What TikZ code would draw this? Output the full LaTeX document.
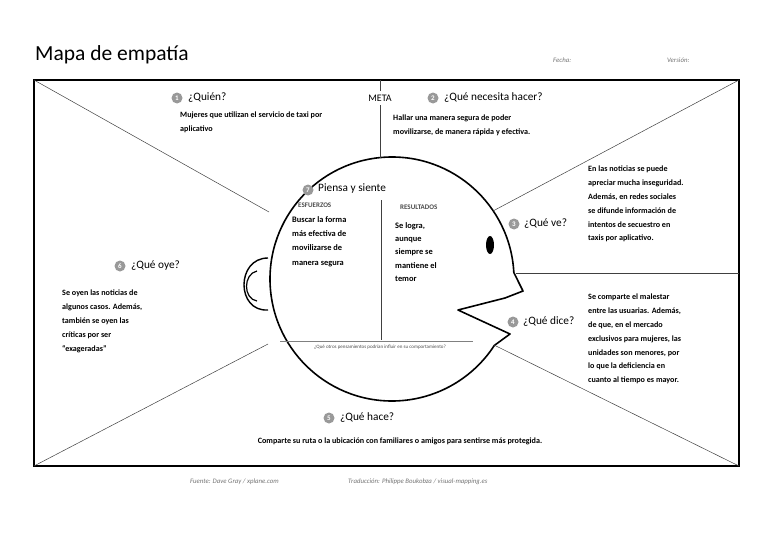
\documentclass[tikz,border=0pt]{standalone}
\usepackage{fontspec}
\setmainfont{Carlito}
\begin{document}
\begin{tikzpicture}[x=1pt,y=-1pt,
  ln/.style={line width=0.5pt, black!75},
  head/.style={font=\fontsize{11.3}{13}\selectfont, anchor=west, inner sep=0},
  body/.style={font=\fontsize{8.1}{13.8}\selectfont\bfseries, anchor=north west, align=left, inner sep=0},
  num/.style={circle, fill=black!40, text=white, font=\fontsize{7}{7}\selectfont\bfseries, inner sep=0, minimum size=11pt},
  foot/.style={font=\fontsize{6.8}{7}\selectfont\itshape, text=black!55, anchor=west, inner sep=0}]
\useasboundingbox (0,0) rectangle (768,543);
\node[anchor=west, inner sep=0, font=\fontsize{21.5}{24}\selectfont] (title) at (35,55) {Mapa de empatía};
\node[foot] (fecha) at (553,60) {Fecha:};
\node[foot] (version) at (667,60) {Versión:};
% frame
\draw[line width=1.4pt] (34,80) rectangle (739,466);
\coordinate (tl) at (34,80); \coordinate (tr) at (739,80);
\coordinate (bl) at (34,466); \coordinate (br) at (739,466);
% head
\coordinate (c) at (392,279);
\draw[line width=1.6pt, line join=round] (c) ++(-3:122) arc[start angle=-3, end angle=-327, radius=122]
  -- (510,334) -- (458,310) -- (505,298) -- (523,291) -- cycle;
\fill (490,245) ellipse (4pt and 9pt);
\draw[line width=1.4pt] (268,258) .. controls (236,258) and (236,312) .. (268,310);
\draw[line width=1.2pt] (257,271) .. controls (243,274) and (243,299) .. (257,301);
% connectors
\coordinate (hl) at (269,212); \coordinate (hr) at (493,211);
\coordinate (hbl) at (268,344); \coordinate (hbr) at (494,345);
\coordinate (nose) at (516,273); \coordinate (rmid) at (739,273);
\coordinate (meta1) at (380,80); \coordinate (meta2) at (380,158);
\draw[ln] (tl) -- (hl); \draw[ln] (tr) -- (hr);
\draw[ln] (bl) -- (hbl); \draw[ln] (br) -- (hbr);
\draw[ln] (nose) -- (rmid);
\draw[ln] (meta1) -- (380,91); \draw[ln] (380,105) -- (meta2);
\draw[ln] (381,200) -- (381,340);
\draw[ln, black!50] (280,341) -- (473,341);
% labels
\node[font=\fontsize{10}{11}\selectfont, inner sep=0] (meta) at (380,98) {META};
\node[num] (n1) at (177,98) {1}; \node[head] (q1) at (188,98) {¿Quién?};
\node[num] (n2) at (433,98) {2}; \node[head] (q2) at (444,98) {¿Qué necesita hacer?};
\node[num] (n3) at (514,224) {3}; \node[head] (q3) at (524,224) {¿Qué ve?};
\node[num] (n4) at (513,322) {4}; \node[head] (q4) at (523,322) {¿Qué dice?};
\node[num] (n5) at (329,418) {5}; \node[head] (q5) at (340,418) {¿Qué hace?};
\node[num] (n6) at (120,266) {6}; \node[head] (q6) at (131,266) {¿Qué oye?};
\node[num] (n7) at (308,190) {7}; \node[head, font=\fontsize{11.3}{13}\selectfont] (q7) at (318,189) {Piensa y siente};
\node[font=\fontsize{7}{7}\selectfont\bfseries, text=black!70, inner sep=0, anchor=west] (esf) at (298,205) {ESFUERZOS};
\node[font=\fontsize{7}{7}\selectfont\bfseries, text=black!70, inner sep=0, anchor=west] (res) at (400,207) {RESULTADOS};
\node[font=\fontsize{5}{5}\selectfont, text=black!70, inner sep=0] (otros) at (380,347) {¿Qué otros pensamientos podrían influir en su comportamiento?};
% bodies
\node[body] (b1) at (180,112) {Mujeres que utilizan el servicio de taxi por\\aplicativo};
\node[body] (b2) at (393,115) {Hallar una manera segura de poder\\movilizarse, de manera rápida y efectiva.};
\node[body] (b3) at (588,166) {En las noticias se puede\\apreciar mucha inseguridad.\\Además, en redes sociales\\se difunde información de\\intentos de secuestro en\\taxis por aplicativo.};
\node[body] (b4) at (588,294) {Se comparte el malestar\\entre las usuarias. Además,\\de que, en el mercado\\exclusivos para mujeres, las\\unidades son menores, por\\lo que la deficiencia en\\cuanto al tiempo es mayor.};
\node[body] (b6) at (62,290) {Se oyen las noticias de\\algunos casos. Además,\\también se oyen las\\críticas por ser\\“exageradas”};
\node[body, font=\fontsize{8.4}{14.4}\selectfont\bfseries] (b7a) at (292,216) {Buscar la forma\\más efectiva de\\movilizarse de\\manera segura};
\node[body, font=\fontsize{8.4}{13.4}\selectfont\bfseries] (b7b) at (395,222) {Se logra,\\aunque\\siempre se\\mantiene el\\temor};
\node[body, anchor=center] (b5) at (400,441) {Comparte su ruta o la ubicación con familiares o amigos para sentirse más protegida.};
% footer
\node[foot] (f1) at (190,482) {Fuente: Dave Gray / xplane.com};
\node[foot] (f2) at (348,482) {Traducción: Philippe Boukobza / visual-mapping.es};
\end{tikzpicture}
\end{document}
